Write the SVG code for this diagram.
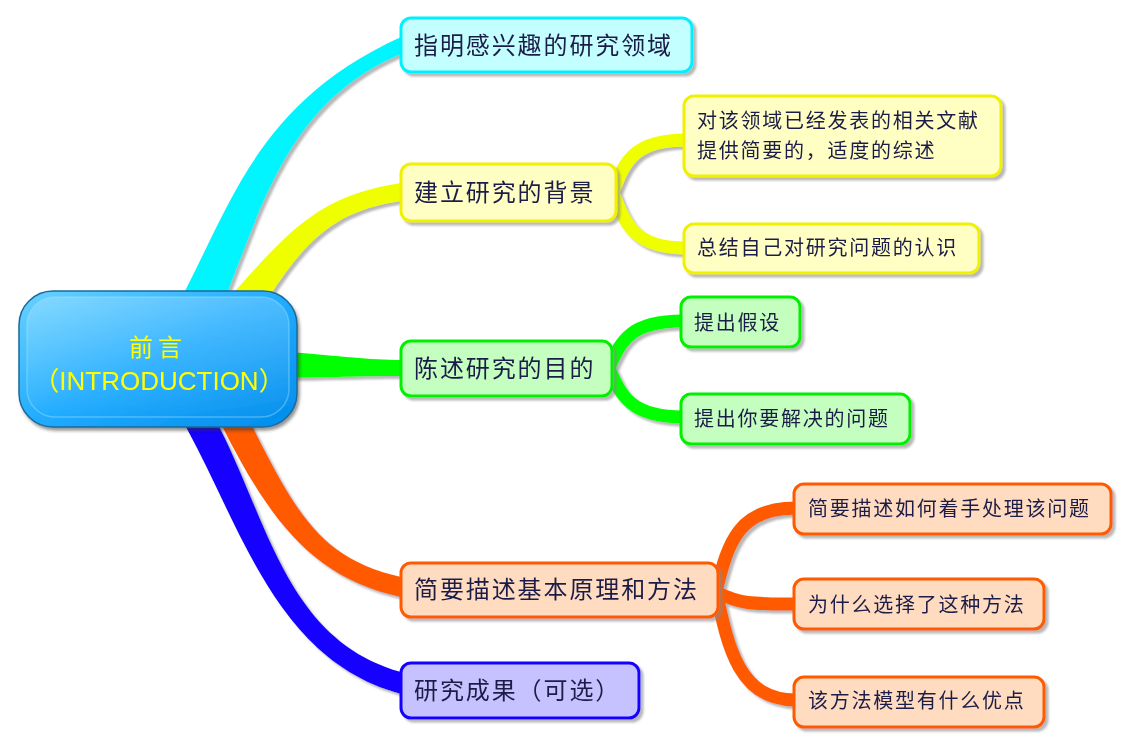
<svg xmlns="http://www.w3.org/2000/svg" width="1133" height="754" viewBox="0 0 1133 754">
<defs>
<filter id="sh" x="-10%" y="-10%" width="130%" height="130%">
<feDropShadow dx="3" dy="3" stdDeviation="0.8" flood-color="#888" flood-opacity="0.6"/>
</filter>
<filter id="shc" x="-10%" y="-10%" width="130%" height="130%">
<feDropShadow dx="2" dy="3" stdDeviation="1.5" flood-color="#333" flood-opacity="0.5"/>
</filter>
<linearGradient id="cg" x1="0" y1="0" x2="1" y2="1">
<stop offset="0" stop-color="#6ad2ff"/>
<stop offset="0.5" stop-color="#22acff"/>
<stop offset="1" stop-color="#008ceb"/>
</linearGradient>
<linearGradient id="bev" x1="0" y1="0" x2="0" y2="1">
<stop offset="0" stop-color="#ffffff" stop-opacity="0.2"/>
<stop offset="0.85" stop-color="#ffffff" stop-opacity="0.04"/>
<stop offset="1" stop-color="#ffffff" stop-opacity="0"/>
</linearGradient>
</defs>
<style>
.n rect{stroke-width:3}
.t{font-family:"Noto Sans CJK SC","Noto Sans CJK JP",sans-serif;fill:#1c1c48}
.m{font-size:24px;letter-spacing:1.9px}
.s{font-size:20px;letter-spacing:1.75px}
.cy rect{fill:#c4ffff;stroke:#00f0ff}
.ye rect{fill:#ffffc4;stroke:#f0f000}
.gr rect{fill:#c4ffc0;stroke:#00f000}
.or rect{fill:#ffdcc0;stroke:#ff5a00}
.bl rect{fill:#c6c2ff;stroke:#1400ff}
.arm{fill:none;stroke-width:13}
</style>
<rect width="1133" height="754" fill="#ffffff"/>
<g id="connectors" filter="url(#sh)">
<path d="M185,291 C232,200 262,100 401,37 L401,54 C292,100 264,200 228,291 Z" fill="#00f5ff"/>
<path d="M235,291 C290,230 320,195 401,183 L401,201 C340,210 310,235 273,291 Z" fill="#f0ff00"/>
<path d="M290,352 C340,356 370,360 401,360 L401,376 C370,376 340,377 290,378 Z" fill="#00ff00"/>
<path d="M246,414 C294,509 317,558 401,577 L401,597 C313,578 270,521 222,426 Z" fill="#ff5a00"/>
<path d="M212,413 C268,515 283,639 401,672 L401,694 C277,661 242,529 186,427 Z" fill="#1400ff"/>
<path class="arm" stroke="#f0ff00" d="M613,192 C625,160 635,140 686,140"/>
<path class="arm" stroke="#f0ff00" d="M613,192 C625,225 635,248 686,248"/>
<path class="arm" stroke="#00ff00" d="M609,368 C621,340 631,321 683,321"/>
<path class="arm" stroke="#00ff00" d="M609,368 C621,396 631,417 683,417"/>
<path class="arm" stroke="#ff5a00" d="M716,592 C728,540 740,508 796,508"/>
<path class="arm" stroke="#ff5a00" d="M716,592 C740,604 750,604 796,604"/>
<path class="arm" stroke="#ff5a00" d="M716,590 C728,650 740,700 796,700"/>
</g>
<g id="center" filter="url(#shc)">
<rect x="19" y="291" width="278" height="136" rx="34" fill="url(#cg)" stroke="#1a6a9a" stroke-width="1.5"/>
<rect x="27" y="297" width="262" height="120" rx="28" fill="url(#bev)" stroke="#9fe4ff" stroke-opacity="0.4" stroke-width="1.5"/>
<text x="158" y="356" text-anchor="middle" style="font-family:'Noto Sans CJK SC',sans-serif;font-size:24px;letter-spacing:5px;fill:#ffff00">前言</text>
<text x="159" y="390" text-anchor="middle" style="font-family:'Liberation Sans','Noto Sans CJK SC',sans-serif;font-size:26px;fill:#ffff00">（INTRODUCTION）</text>
</g>
<g id="n1" class="n cy" filter="url(#sh)"><rect x="401" y="18" width="291" height="54" rx="10"/><text class="t m" x="414" y="54">指明感兴趣的研究领域</text></g>
<g id="n2" class="n ye" filter="url(#sh)"><rect x="401" y="164" width="215" height="57" rx="10"/><text class="t m" x="414" y="201">建立研究的背景</text></g>
<g id="n2a" class="n ye" filter="url(#sh)"><rect x="684" y="96" width="317" height="80" rx="10"/><text class="t s" x="697" y="127.5">对该领域已经发表的相关文献</text><text class="t s" x="697" y="157.5">提供简要的，适度的综述</text></g>
<g id="n2b" class="n ye" filter="url(#sh)"><rect x="684" y="224" width="295" height="49" rx="10"/><text class="t s" x="697" y="254.5">总结自己对研究问题的认识</text></g>
<g id="n3" class="n gr" filter="url(#sh)"><rect x="401" y="341" width="211" height="55" rx="10"/><text class="t m" x="414" y="377">陈述研究的目的</text></g>
<g id="n3a" class="n gr" filter="url(#sh)"><rect x="681" y="297" width="119" height="50" rx="10"/><text class="t s" x="694" y="329.5">提出假设</text></g>
<g id="n3b" class="n gr" filter="url(#sh)"><rect x="681" y="394" width="229" height="50" rx="10"/><text class="t s" x="694" y="425.5">提出你要解决的问题</text></g>
<g id="n4" class="n or" filter="url(#sh)"><rect x="401" y="563" width="317" height="54" rx="10"/><text class="t m" x="414" y="598">简要描述基本原理和方法</text></g>
<g id="n4a" class="n or" filter="url(#sh)"><rect x="794" y="484" width="317" height="50" rx="10"/><text class="t s" x="808" y="515.5">简要描述如何着手处理该问题</text></g>
<g id="n4b" class="n or" filter="url(#sh)"><rect x="794" y="579" width="250" height="50" rx="10"/><text class="t s" x="808" y="611.5">为什么选择了这种方法</text></g>
<g id="n4c" class="n or" filter="url(#sh)"><rect x="794" y="677" width="250" height="50" rx="10"/><text class="t s" x="808" y="707.5">该方法模型有什么优点</text></g>
<g id="n5" class="n bl" filter="url(#sh)"><rect x="401" y="663" width="238" height="55" rx="10"/><text class="t m" x="414" y="699">研究成果（可选）</text></g>
</svg>
